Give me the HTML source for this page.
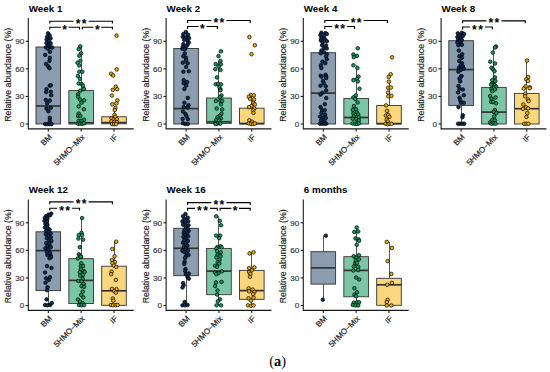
<!DOCTYPE html>
<html><head><meta charset="utf-8"><style>
html,body{margin:0;padding:0;background:#fff;}
svg{display:block;}
text{font-family:"Liberation Sans",sans-serif;}
.t{font-size:9.8px;font-weight:bold;fill:#000;}
.yl{font-size:8.8px;fill:#111;stroke:#111;stroke-width:0.12px;}
.tk{font-size:8.1px;fill:#333;stroke:#333;stroke-width:0.15px;}
.xl{font-size:8px;fill:#222;stroke:#222;stroke-width:0.18px;}
.st{font-size:12.2px;font-weight:bold;fill:#000;letter-spacing:1.4px;}
.ax{stroke:#1a1a1a;stroke-width:1.1;fill:none;}
.wh{stroke:#444;stroke-width:0.9;fill:none;}
.bx{stroke:#333;stroke-width:0.9;}
.md{stroke:#333;stroke-width:1.7;}
.br{stroke:#000;stroke-width:1.1;fill:none;}
circle{stroke:#000;stroke-width:0.7;}
</style></head><body>
<svg width="550" height="372" viewBox="0 0 550 372">
<text x="28.8" y="11.5" class="t">Week 1</text>
<text transform="translate(11.3,74.8) rotate(-90)" class="yl" text-anchor="middle">Relative abundance (%)</text>
<path d="M28.3 18.1V128.9H133.7" class="ax"/>
<path d="M25.7 124H28.3" class="ax"/>
<text x="24.2" y="126.9" class="tk" text-anchor="end">0</text>
<path d="M25.7 96.43H28.3" class="ax"/>
<text x="24.2" y="99.33" class="tk" text-anchor="end">30</text>
<path d="M25.7 68.86H28.3" class="ax"/>
<text x="24.2" y="71.76" class="tk" text-anchor="end">60</text>
<path d="M25.7 41.29H28.3" class="ax"/>
<text x="24.2" y="44.19" class="tk" text-anchor="end">90</text>
<path d="M48.5 33.3V47M48.5 124V124" class="wh"/>
<rect x="36" y="47" width="24.6" height="77" fill="#8c9db0" class="bx"/>
<path d="M36 106H60.6" class="md"/>
<path d="M81.5 46.3V90.6M81.5 124V124" class="wh"/>
<rect x="68.85" y="90.6" width="24.6" height="33.4" fill="#7cc5a6" class="bx"/>
<path d="M68.85 122.8H93.45" class="md"/>
<path d="M114.5 107.9V116.8M114.5 123.8V124" class="wh"/>
<rect x="101.7" y="116.8" width="24.6" height="7" fill="#fad77e" class="bx"/>
<path d="M101.7 122.6H126.3" class="md"/>
<path d="M48.3 128.9V131.4" class="ax"/>
<text transform="translate(52.5,137.6) rotate(-45)" class="xl" text-anchor="end">BM</text>
<path d="M81.15 128.9V131.4" class="ax"/>
<text transform="translate(85.35,137.6) rotate(-45)" class="xl" text-anchor="end">5HMO&#8722;Mix</text>
<path d="M114 128.9V131.4" class="ax"/>
<text transform="translate(118.2,137.6) rotate(-45)" class="xl" text-anchor="end">IF</text>
<path d="M49.8 23.6V21.2H73.6M88.6 21.2H112.4V23.6" class="br"/>
<text x="81.8" y="27.7" class="st" text-anchor="middle">**</text>
<path d="M49.8 29.6V27.2H60.88M68.48 27.2H79.55V29.6" class="br"/>
<text x="65.38" y="33.7" class="st" text-anchor="middle">*</text>
<path d="M82.35 29.6V27.2H93.58M101.17 27.2H112.4V29.6" class="br"/>
<text x="98.08" y="33.7" class="st" text-anchor="middle">*</text>
<text x="166.6" y="11.5" class="t">Week 2</text>
<text transform="translate(149.1,74.8) rotate(-90)" class="yl" text-anchor="middle">Relative abundance (%)</text>
<path d="M166.1 18.1V128.9H271.5" class="ax"/>
<path d="M163.5 124H166.1" class="ax"/>
<text x="162" y="126.9" class="tk" text-anchor="end">0</text>
<path d="M163.5 96.43H166.1" class="ax"/>
<text x="162" y="99.33" class="tk" text-anchor="end">30</text>
<path d="M163.5 68.86H166.1" class="ax"/>
<text x="162" y="71.76" class="tk" text-anchor="end">60</text>
<path d="M163.5 41.29H166.1" class="ax"/>
<text x="162" y="44.19" class="tk" text-anchor="end">90</text>
<path d="M186.5 32V48.5M186.5 124V124" class="wh"/>
<rect x="173.8" y="48.5" width="24.6" height="75.5" fill="#8c9db0" class="bx"/>
<path d="M173.8 108.6H198.4" class="md"/>
<path d="M218.5 61V98M218.5 123.4V124" class="wh"/>
<rect x="206.65" y="98" width="24.6" height="25.4" fill="#7cc5a6" class="bx"/>
<path d="M206.65 121.8H231.25" class="md"/>
<path d="M251.5 95.1V108.2M251.5 124V124" class="wh"/>
<rect x="239.5" y="108.2" width="24.6" height="15.8" fill="#fad77e" class="bx"/>
<path d="M239.5 123.5H264.1" class="md"/>
<path d="M186.1 128.9V131.4" class="ax"/>
<text transform="translate(190.3,137.6) rotate(-45)" class="xl" text-anchor="end">BM</text>
<path d="M218.95 128.9V131.4" class="ax"/>
<text transform="translate(223.15,137.6) rotate(-45)" class="xl" text-anchor="end">5HMO&#8722;Mix</text>
<path d="M251.8 128.9V131.4" class="ax"/>
<text transform="translate(256,137.6) rotate(-45)" class="xl" text-anchor="end">IF</text>
<path d="M187.6 22.9V20.5H211.4M226.4 20.5H250.2V22.9" class="br"/>
<text x="219.6" y="27" class="st" text-anchor="middle">**</text>
<path d="M187.6 28.9V26.5H198.67M206.28 26.5H217.35V28.9" class="br"/>
<text x="203.17" y="33" class="st" text-anchor="middle">*</text>
<text x="303.8" y="11.5" class="t">Week 4</text>
<text transform="translate(286.3,74.8) rotate(-90)" class="yl" text-anchor="middle">Relative abundance (%)</text>
<path d="M303.3 18.1V128.9H408.7" class="ax"/>
<path d="M300.7 124H303.3" class="ax"/>
<text x="299.2" y="126.9" class="tk" text-anchor="end">0</text>
<path d="M300.7 96.43H303.3" class="ax"/>
<text x="299.2" y="99.33" class="tk" text-anchor="end">30</text>
<path d="M300.7 68.86H303.3" class="ax"/>
<text x="299.2" y="71.76" class="tk" text-anchor="end">60</text>
<path d="M300.7 41.29H303.3" class="ax"/>
<text x="299.2" y="44.19" class="tk" text-anchor="end">90</text>
<path d="M323.5 32.7V52.7M323.5 124V124" class="wh"/>
<rect x="311" y="52.7" width="24.6" height="71.3" fill="#8c9db0" class="bx"/>
<path d="M311 93.1H335.6" class="md"/>
<path d="M356.5 65.3V98.4M356.5 124V124" class="wh"/>
<rect x="343.85" y="98.4" width="24.6" height="25.6" fill="#7cc5a6" class="bx"/>
<path d="M343.85 117.5H368.45" class="md"/>
<path d="M389.5 81.6V105.5M389.5 124V124" class="wh"/>
<rect x="376.7" y="105.5" width="24.6" height="18.5" fill="#fad77e" class="bx"/>
<path d="M376.7 123.6H401.3" class="md"/>
<path d="M323.3 128.9V131.4" class="ax"/>
<text transform="translate(327.5,137.6) rotate(-45)" class="xl" text-anchor="end">BM</text>
<path d="M356.15 128.9V131.4" class="ax"/>
<text transform="translate(360.35,137.6) rotate(-45)" class="xl" text-anchor="end">5HMO&#8722;Mix</text>
<path d="M389 128.9V131.4" class="ax"/>
<text transform="translate(393.2,137.6) rotate(-45)" class="xl" text-anchor="end">IF</text>
<path d="M324.8 22.9V20.5H348.6M363.6 20.5H387.4V22.9" class="br"/>
<text x="356.8" y="27" class="st" text-anchor="middle">**</text>
<path d="M324.8 28.9V26.5H332.18M347.18 26.5H354.55V28.9" class="br"/>
<text x="340.38" y="33" class="st" text-anchor="middle">**</text>
<text x="441.6" y="11.5" class="t">Week 8</text>
<text transform="translate(424.1,74.8) rotate(-90)" class="yl" text-anchor="middle">Relative abundance (%)</text>
<path d="M441.1 18.1V128.9H546.5" class="ax"/>
<path d="M438.5 124H441.1" class="ax"/>
<text x="437" y="126.9" class="tk" text-anchor="end">0</text>
<path d="M438.5 96.43H441.1" class="ax"/>
<text x="437" y="99.33" class="tk" text-anchor="end">30</text>
<path d="M438.5 68.86H441.1" class="ax"/>
<text x="437" y="71.76" class="tk" text-anchor="end">60</text>
<path d="M438.5 41.29H441.1" class="ax"/>
<text x="437" y="44.19" class="tk" text-anchor="end">90</text>
<path d="M461.5 32.7V40.7M461.5 105.4V123.7" class="wh"/>
<rect x="448.8" y="40.7" width="24.6" height="64.7" fill="#8c9db0" class="bx"/>
<path d="M448.8 69.6H473.4" class="md"/>
<path d="M493.5 46.5V87.4M493.5 124V124" class="wh"/>
<rect x="481.65" y="87.4" width="24.6" height="36.6" fill="#7cc5a6" class="bx"/>
<path d="M481.65 112.1H506.25" class="md"/>
<path d="M526.5 60.6V93.4M526.5 124V124" class="wh"/>
<rect x="514.5" y="93.4" width="24.6" height="30.6" fill="#fad77e" class="bx"/>
<path d="M514.5 108.7H539.1" class="md"/>
<path d="M461.1 128.9V131.4" class="ax"/>
<text transform="translate(465.3,137.6) rotate(-45)" class="xl" text-anchor="end">BM</text>
<path d="M493.95 128.9V131.4" class="ax"/>
<text transform="translate(498.15,137.6) rotate(-45)" class="xl" text-anchor="end">5HMO&#8722;Mix</text>
<path d="M526.8 128.9V131.4" class="ax"/>
<text transform="translate(531,137.6) rotate(-45)" class="xl" text-anchor="end">IF</text>
<path d="M462.6 23.3V20.9H486.4M501.4 20.9H525.2V23.3" class="br"/>
<text x="494.6" y="27.4" class="st" text-anchor="middle">**</text>
<path d="M462.6 29.4V27H469.98M484.98 27H492.35V29.4" class="br"/>
<text x="478.18" y="33.5" class="st" text-anchor="middle">**</text>
<text x="28.8" y="193" class="t">Week 12</text>
<text transform="translate(11.3,256.3) rotate(-90)" class="yl" text-anchor="middle">Relative abundance (%)</text>
<path d="M28.3 199.6V310.4H133.7" class="ax"/>
<path d="M25.7 305.5H28.3" class="ax"/>
<text x="24.2" y="308.4" class="tk" text-anchor="end">0</text>
<path d="M25.7 277.93H28.3" class="ax"/>
<text x="24.2" y="280.83" class="tk" text-anchor="end">30</text>
<path d="M25.7 250.36H28.3" class="ax"/>
<text x="24.2" y="253.26" class="tk" text-anchor="end">60</text>
<path d="M25.7 222.79H28.3" class="ax"/>
<text x="24.2" y="225.69" class="tk" text-anchor="end">90</text>
<path d="M48.5 213.6V231.8M48.5 290.6V305.3" class="wh"/>
<rect x="36" y="231.8" width="24.6" height="58.8" fill="#8c9db0" class="bx"/>
<path d="M36 250.6H60.6" class="md"/>
<path d="M81.5 218V258.7M81.5 303.5V305.3" class="wh"/>
<rect x="68.85" y="258.7" width="24.6" height="44.8" fill="#7cc5a6" class="bx"/>
<path d="M68.85 280.4H93.45" class="md"/>
<path d="M114.5 241.7V266.2M114.5 305.3V305.3" class="wh"/>
<rect x="101.7" y="266.2" width="24.6" height="39.1" fill="#fad77e" class="bx"/>
<path d="M101.7 290.8H126.3" class="md"/>
<path d="M48.3 310.4V312.9" class="ax"/>
<text transform="translate(52.5,319.1) rotate(-45)" class="xl" text-anchor="end">BM</text>
<path d="M81.15 310.4V312.9" class="ax"/>
<text transform="translate(85.35,319.1) rotate(-45)" class="xl" text-anchor="end">5HMO&#8722;Mix</text>
<path d="M114 310.4V312.9" class="ax"/>
<text transform="translate(118.2,319.1) rotate(-45)" class="xl" text-anchor="end">IF</text>
<path d="M49.8 204.3V201.9H73.6M88.6 201.9H112.4V204.3" class="br"/>
<text x="81.8" y="208.4" class="st" text-anchor="middle">**</text>
<path d="M49.8 210.6V208.2H57.18M72.18 208.2H79.55V210.6" class="br"/>
<text x="65.38" y="214.7" class="st" text-anchor="middle">**</text>
<text x="166.6" y="193" class="t">Week 16</text>
<text transform="translate(149.1,256.3) rotate(-90)" class="yl" text-anchor="middle">Relative abundance (%)</text>
<path d="M166.1 199.6V310.4H271.5" class="ax"/>
<path d="M163.5 305.5H166.1" class="ax"/>
<text x="162" y="308.4" class="tk" text-anchor="end">0</text>
<path d="M163.5 277.93H166.1" class="ax"/>
<text x="162" y="280.83" class="tk" text-anchor="end">30</text>
<path d="M163.5 250.36H166.1" class="ax"/>
<text x="162" y="253.26" class="tk" text-anchor="end">60</text>
<path d="M163.5 222.79H166.1" class="ax"/>
<text x="162" y="225.69" class="tk" text-anchor="end">90</text>
<path d="M186.5 214V228.3M186.5 275.7V305.3" class="wh"/>
<rect x="173.8" y="228.3" width="24.6" height="47.4" fill="#8c9db0" class="bx"/>
<path d="M173.8 248.3H198.4" class="md"/>
<path d="M218.5 216.3V248.4M218.5 294.7V305.3" class="wh"/>
<rect x="206.65" y="248.4" width="24.6" height="46.3" fill="#7cc5a6" class="bx"/>
<path d="M206.65 271.1H231.25" class="md"/>
<path d="M251.5 252.3V270.4M251.5 299.3V305.5" class="wh"/>
<rect x="239.5" y="270.4" width="24.6" height="28.9" fill="#fad77e" class="bx"/>
<path d="M239.5 290.6H264.1" class="md"/>
<path d="M186.1 310.4V312.9" class="ax"/>
<text transform="translate(190.3,319.1) rotate(-45)" class="xl" text-anchor="end">BM</text>
<path d="M218.95 310.4V312.9" class="ax"/>
<text transform="translate(223.15,319.1) rotate(-45)" class="xl" text-anchor="end">5HMO&#8722;Mix</text>
<path d="M251.8 310.4V312.9" class="ax"/>
<text transform="translate(256,319.1) rotate(-45)" class="xl" text-anchor="end">IF</text>
<path d="M187.6 205V202.6H211.4M226.4 202.6H250.2V205" class="br"/>
<text x="219.6" y="209.1" class="st" text-anchor="middle">**</text>
<path d="M187.6 210.8V208.4H194.97M209.97 208.4H217.35V210.8" class="br"/>
<text x="203.17" y="214.9" class="st" text-anchor="middle">**</text>
<path d="M220.15 210.8V208.4H231.38M238.98 208.4H250.2V210.8" class="br"/>
<text x="235.88" y="214.9" class="st" text-anchor="middle">*</text>
<text x="303.8" y="193" class="t">6 months</text>
<text transform="translate(286.3,256.3) rotate(-90)" class="yl" text-anchor="middle">Relative abundance (%)</text>
<path d="M303.3 199.6V310.4H408.7" class="ax"/>
<path d="M300.7 305.5H303.3" class="ax"/>
<text x="299.2" y="308.4" class="tk" text-anchor="end">0</text>
<path d="M300.7 277.93H303.3" class="ax"/>
<text x="299.2" y="280.83" class="tk" text-anchor="end">30</text>
<path d="M300.7 250.36H303.3" class="ax"/>
<text x="299.2" y="253.26" class="tk" text-anchor="end">60</text>
<path d="M300.7 222.79H303.3" class="ax"/>
<text x="299.2" y="225.69" class="tk" text-anchor="end">90</text>
<path d="M323.5 235.7V251.7M323.5 284.1V299.7" class="wh"/>
<rect x="311" y="251.7" width="24.6" height="32.4" fill="#8c9db0" class="bx"/>
<path d="M311 267.9H335.6" class="md"/>
<path d="M356.5 227.5V256.7M356.5 296.8V305.4" class="wh"/>
<rect x="343.85" y="256.7" width="24.6" height="40.1" fill="#7cc5a6" class="bx"/>
<path d="M343.85 270.4H368.45" class="md"/>
<path d="M389.5 241.9V278.3M389.5 305.3V305.5" class="wh"/>
<rect x="376.7" y="278.3" width="24.6" height="27" fill="#fad77e" class="bx"/>
<path d="M376.7 284.8H401.3" class="md"/>
<path d="M323.3 310.4V312.9" class="ax"/>
<text transform="translate(327.5,319.1) rotate(-45)" class="xl" text-anchor="end">BM</text>
<path d="M356.15 310.4V312.9" class="ax"/>
<text transform="translate(360.35,319.1) rotate(-45)" class="xl" text-anchor="end">5HMO&#8722;Mix</text>
<path d="M389 310.4V312.9" class="ax"/>
<text transform="translate(393.2,319.1) rotate(-45)" class="xl" text-anchor="end">IF</text>
<g>
<circle cx="48" cy="33.3" r="1.8" fill="#0c2d55"/>
<circle cx="49.6" cy="35.4" r="1.8" fill="#0c2d55"/>
<circle cx="47.2" cy="36.8" r="1.8" fill="#0c2d55"/>
<circle cx="50.6" cy="38.4" r="1.8" fill="#0c2d55"/>
<circle cx="46.6" cy="39.6" r="1.8" fill="#0c2d55"/>
<circle cx="48.8" cy="41.2" r="1.8" fill="#0c2d55"/>
<circle cx="46.5" cy="43" r="1.8" fill="#0c2d55"/>
<circle cx="50.7" cy="43.4" r="1.8" fill="#0c2d55"/>
<circle cx="48.5" cy="45.3" r="1.8" fill="#0c2d55"/>
<circle cx="46" cy="47.3" r="1.8" fill="#0c2d55"/>
<circle cx="50" cy="47" r="1.8" fill="#0c2d55"/>
<circle cx="52.2" cy="47.6" r="1.8" fill="#0c2d55"/>
<circle cx="47.8" cy="48.6" r="1.8" fill="#0c2d55"/>
<circle cx="49.9" cy="51.9" r="1.8" fill="#0c2d55"/>
<circle cx="45.2" cy="54.9" r="1.8" fill="#0c2d55"/>
<circle cx="49.9" cy="57.8" r="1.8" fill="#0c2d55"/>
<circle cx="49.5" cy="60.9" r="1.8" fill="#0c2d55"/>
<circle cx="46.1" cy="64" r="1.8" fill="#0c2d55"/>
<circle cx="48.1" cy="66.3" r="1.8" fill="#0c2d55"/>
<circle cx="49.5" cy="68.3" r="1.8" fill="#0c2d55"/>
<circle cx="49.8" cy="85.7" r="1.8" fill="#0c2d55"/>
<circle cx="50.8" cy="85.3" r="1.8" fill="#0c2d55"/>
<circle cx="46.5" cy="89.2" r="1.8" fill="#0c2d55"/>
<circle cx="46.1" cy="92.1" r="1.8" fill="#0c2d55"/>
<circle cx="50.8" cy="91.8" r="1.8" fill="#0c2d55"/>
<circle cx="51.2" cy="95.2" r="1.8" fill="#0c2d55"/>
<circle cx="45.8" cy="99.9" r="1.8" fill="#0c2d55"/>
<circle cx="49.8" cy="100.6" r="1.8" fill="#0c2d55"/>
<circle cx="47.2" cy="103.5" r="1.8" fill="#0c2d55"/>
<circle cx="46.5" cy="108.5" r="1.8" fill="#0c2d55"/>
<circle cx="50.8" cy="107.8" r="1.8" fill="#0c2d55"/>
<circle cx="48.4" cy="111.3" r="1.8" fill="#0c2d55"/>
<circle cx="49.8" cy="117.7" r="1.8" fill="#0c2d55"/>
<circle cx="49.8" cy="120.6" r="1.8" fill="#0c2d55"/>
<circle cx="45.1" cy="124.1" r="1.8" fill="#0c2d55"/>
<circle cx="47.2" cy="124.1" r="1.8" fill="#0c2d55"/>
<circle cx="49.4" cy="124.1" r="1.8" fill="#0c2d55"/>
<circle cx="51.5" cy="124.1" r="1.8" fill="#0c2d55"/>
<circle cx="80.3" cy="46.3" r="1.8" fill="#0f9a5e"/>
<circle cx="78.7" cy="49.1" r="1.8" fill="#0f9a5e"/>
<circle cx="81.1" cy="53.3" r="1.8" fill="#0f9a5e"/>
<circle cx="79.3" cy="55.7" r="1.8" fill="#0f9a5e"/>
<circle cx="80.3" cy="60.8" r="1.8" fill="#0f9a5e"/>
<circle cx="77.5" cy="62.7" r="1.8" fill="#0f9a5e"/>
<circle cx="79.3" cy="65.4" r="1.8" fill="#0f9a5e"/>
<circle cx="79.3" cy="71.7" r="1.8" fill="#0f9a5e"/>
<circle cx="82.3" cy="71.7" r="1.8" fill="#0f9a5e"/>
<circle cx="77.9" cy="76" r="1.8" fill="#0f9a5e"/>
<circle cx="79.9" cy="78.9" r="1.8" fill="#0f9a5e"/>
<circle cx="78.7" cy="83.5" r="1.8" fill="#0f9a5e"/>
<circle cx="81.7" cy="84.1" r="1.8" fill="#0f9a5e"/>
<circle cx="82.9" cy="85.8" r="1.8" fill="#0f9a5e"/>
<circle cx="83.9" cy="89.1" r="1.8" fill="#0f9a5e"/>
<circle cx="80.3" cy="90.7" r="1.8" fill="#0f9a5e"/>
<circle cx="78.1" cy="94.3" r="1.8" fill="#0f9a5e"/>
<circle cx="78.1" cy="96.7" r="1.8" fill="#0f9a5e"/>
<circle cx="79.9" cy="99.5" r="1.8" fill="#0f9a5e"/>
<circle cx="84.1" cy="100.3" r="1.8" fill="#0f9a5e"/>
<circle cx="81.5" cy="102.7" r="1.8" fill="#0f9a5e"/>
<circle cx="78.7" cy="106.4" r="1.8" fill="#0f9a5e"/>
<circle cx="83.9" cy="109.2" r="1.8" fill="#0f9a5e"/>
<circle cx="78.7" cy="113.6" r="1.8" fill="#0f9a5e"/>
<circle cx="78.1" cy="116" r="1.8" fill="#0f9a5e"/>
<circle cx="80.3" cy="116" r="1.8" fill="#0f9a5e"/>
<circle cx="84.1" cy="119.7" r="1.8" fill="#0f9a5e"/>
<circle cx="78.7" cy="120.9" r="1.8" fill="#0f9a5e"/>
<circle cx="81.5" cy="120.9" r="1.8" fill="#0f9a5e"/>
<circle cx="78.1" cy="123.7" r="1.8" fill="#0f9a5e"/>
<circle cx="80.3" cy="123.7" r="1.8" fill="#0f9a5e"/>
<circle cx="82.3" cy="123.7" r="1.8" fill="#0f9a5e"/>
<circle cx="84.1" cy="123.3" r="1.8" fill="#0f9a5e"/>
<circle cx="116.5" cy="35.6" r="1.8" fill="#f0ae00"/>
<circle cx="116.7" cy="69.4" r="1.8" fill="#f0ae00"/>
<circle cx="111.1" cy="73.7" r="1.8" fill="#f0ae00"/>
<circle cx="113.1" cy="75.4" r="1.8" fill="#f0ae00"/>
<circle cx="115.8" cy="86.6" r="1.8" fill="#f0ae00"/>
<circle cx="112.8" cy="89.9" r="1.8" fill="#f0ae00"/>
<circle cx="117.2" cy="89.2" r="1.8" fill="#f0ae00"/>
<circle cx="111.9" cy="95.5" r="1.8" fill="#f0ae00"/>
<circle cx="117.4" cy="100.4" r="1.8" fill="#f0ae00"/>
<circle cx="116.4" cy="103.4" r="1.8" fill="#f0ae00"/>
<circle cx="112.4" cy="104.3" r="1.8" fill="#f0ae00"/>
<circle cx="115.4" cy="107.9" r="1.8" fill="#f0ae00"/>
<circle cx="114.8" cy="110" r="1.8" fill="#f0ae00"/>
<circle cx="114.5" cy="114.9" r="1.8" fill="#f0ae00"/>
<circle cx="115.4" cy="116.8" r="1.8" fill="#f0ae00"/>
<circle cx="111.5" cy="118.2" r="1.8" fill="#f0ae00"/>
<circle cx="113.5" cy="119.5" r="1.8" fill="#f0ae00"/>
<circle cx="116.8" cy="119.2" r="1.8" fill="#f0ae00"/>
<circle cx="111.5" cy="121.4" r="1.8" fill="#f0ae00"/>
<circle cx="114.5" cy="121.8" r="1.8" fill="#f0ae00"/>
<circle cx="116.8" cy="122.1" r="1.8" fill="#f0ae00"/>
<circle cx="112.2" cy="124.1" r="1.8" fill="#f0ae00"/>
<circle cx="114.1" cy="124.1" r="1.8" fill="#f0ae00"/>
<circle cx="116.1" cy="124.1" r="1.8" fill="#f0ae00"/>
<circle cx="185.9" cy="32" r="1.8" fill="#0c2d55"/>
<circle cx="183.4" cy="34" r="1.8" fill="#0c2d55"/>
<circle cx="188.1" cy="34.7" r="1.8" fill="#0c2d55"/>
<circle cx="182.8" cy="36.7" r="1.8" fill="#0c2d55"/>
<circle cx="186.1" cy="37.4" r="1.8" fill="#0c2d55"/>
<circle cx="189.1" cy="38.1" r="1.8" fill="#0c2d55"/>
<circle cx="184.1" cy="39.8" r="1.8" fill="#0c2d55"/>
<circle cx="187.5" cy="40.8" r="1.8" fill="#0c2d55"/>
<circle cx="188.8" cy="42.5" r="1.8" fill="#0c2d55"/>
<circle cx="183.4" cy="44.1" r="1.8" fill="#0c2d55"/>
<circle cx="187.5" cy="44.8" r="1.8" fill="#0c2d55"/>
<circle cx="182.8" cy="46.8" r="1.8" fill="#0c2d55"/>
<circle cx="186.1" cy="46.8" r="1.8" fill="#0c2d55"/>
<circle cx="182.4" cy="48.8" r="1.8" fill="#0c2d55"/>
<circle cx="184.8" cy="49.2" r="1.8" fill="#0c2d55"/>
<circle cx="184.8" cy="53.5" r="1.8" fill="#0c2d55"/>
<circle cx="183.4" cy="56.2" r="1.8" fill="#0c2d55"/>
<circle cx="185.9" cy="57.8" r="1.8" fill="#0c2d55"/>
<circle cx="186.1" cy="60.3" r="1.8" fill="#0c2d55"/>
<circle cx="182.8" cy="62.7" r="1.8" fill="#0c2d55"/>
<circle cx="187.5" cy="63.2" r="1.8" fill="#0c2d55"/>
<circle cx="186.1" cy="67" r="1.8" fill="#0c2d55"/>
<circle cx="183.4" cy="71.7" r="1.8" fill="#0c2d55"/>
<circle cx="188.8" cy="71.3" r="1.8" fill="#0c2d55"/>
<circle cx="183.7" cy="80.1" r="1.8" fill="#0c2d55"/>
<circle cx="187.1" cy="82.1" r="1.8" fill="#0c2d55"/>
<circle cx="183.7" cy="83.2" r="1.8" fill="#0c2d55"/>
<circle cx="186.2" cy="85.5" r="1.8" fill="#0c2d55"/>
<circle cx="184.4" cy="89" r="1.8" fill="#0c2d55"/>
<circle cx="187.8" cy="97.9" r="1.8" fill="#0c2d55"/>
<circle cx="184.4" cy="102.7" r="1.8" fill="#0c2d55"/>
<circle cx="188.5" cy="105.2" r="1.8" fill="#0c2d55"/>
<circle cx="183.7" cy="107.1" r="1.8" fill="#0c2d55"/>
<circle cx="187.6" cy="107.5" r="1.8" fill="#0c2d55"/>
<circle cx="183" cy="111.6" r="1.8" fill="#0c2d55"/>
<circle cx="185.4" cy="113.9" r="1.8" fill="#0c2d55"/>
<circle cx="186.5" cy="116.1" r="1.8" fill="#0c2d55"/>
<circle cx="182.6" cy="118.9" r="1.8" fill="#0c2d55"/>
<circle cx="187.8" cy="119.2" r="1.8" fill="#0c2d55"/>
<circle cx="183" cy="123.3" r="1.8" fill="#0c2d55"/>
<circle cx="185.4" cy="124" r="1.8" fill="#0c2d55"/>
<circle cx="187.8" cy="124" r="1.8" fill="#0c2d55"/>
<circle cx="220.9" cy="51.3" r="1.8" fill="#0f9a5e"/>
<circle cx="218.5" cy="56.1" r="1.8" fill="#0f9a5e"/>
<circle cx="220.5" cy="61" r="1.8" fill="#0f9a5e"/>
<circle cx="215.7" cy="64.1" r="1.8" fill="#0f9a5e"/>
<circle cx="220.9" cy="64.3" r="1.8" fill="#0f9a5e"/>
<circle cx="218.7" cy="66.5" r="1.8" fill="#0f9a5e"/>
<circle cx="215.3" cy="69.2" r="1.8" fill="#0f9a5e"/>
<circle cx="220.5" cy="70" r="1.8" fill="#0f9a5e"/>
<circle cx="216.9" cy="77.4" r="1.8" fill="#0f9a5e"/>
<circle cx="215.7" cy="84.3" r="1.8" fill="#0f9a5e"/>
<circle cx="218.1" cy="83.9" r="1.8" fill="#0f9a5e"/>
<circle cx="220.9" cy="84.3" r="1.8" fill="#0f9a5e"/>
<circle cx="219.3" cy="87.1" r="1.8" fill="#0f9a5e"/>
<circle cx="220.5" cy="89.5" r="1.8" fill="#0f9a5e"/>
<circle cx="220.3" cy="90.4" r="1.8" fill="#0f9a5e"/>
<circle cx="221.5" cy="95.5" r="1.8" fill="#0f9a5e"/>
<circle cx="219.8" cy="97" r="1.8" fill="#0f9a5e"/>
<circle cx="215.9" cy="101" r="1.8" fill="#0f9a5e"/>
<circle cx="220.3" cy="100.8" r="1.8" fill="#0f9a5e"/>
<circle cx="222.1" cy="101" r="1.8" fill="#0f9a5e"/>
<circle cx="220.9" cy="104.3" r="1.8" fill="#0f9a5e"/>
<circle cx="216.6" cy="108.5" r="1.8" fill="#0f9a5e"/>
<circle cx="222.1" cy="109.4" r="1.8" fill="#0f9a5e"/>
<circle cx="221.5" cy="113.7" r="1.8" fill="#0f9a5e"/>
<circle cx="219.8" cy="115.8" r="1.8" fill="#0f9a5e"/>
<circle cx="217.5" cy="117.2" r="1.8" fill="#0f9a5e"/>
<circle cx="220.9" cy="118.4" r="1.8" fill="#0f9a5e"/>
<circle cx="216.3" cy="120.1" r="1.8" fill="#0f9a5e"/>
<circle cx="219.2" cy="120.4" r="1.8" fill="#0f9a5e"/>
<circle cx="215.1" cy="122.8" r="1.8" fill="#0f9a5e"/>
<circle cx="217.5" cy="123.6" r="1.8" fill="#0f9a5e"/>
<circle cx="220.3" cy="123.6" r="1.8" fill="#0f9a5e"/>
<circle cx="215.7" cy="124.1" r="1.8" fill="#0f9a5e"/>
<circle cx="249.4" cy="37.1" r="1.8" fill="#f0ae00"/>
<circle cx="254.8" cy="45.2" r="1.8" fill="#f0ae00"/>
<circle cx="251.5" cy="54.2" r="1.8" fill="#f0ae00"/>
<circle cx="250.8" cy="95.1" r="1.8" fill="#f0ae00"/>
<circle cx="253.8" cy="95.4" r="1.8" fill="#f0ae00"/>
<circle cx="248.8" cy="96.8" r="1.8" fill="#f0ae00"/>
<circle cx="250.2" cy="99" r="1.8" fill="#f0ae00"/>
<circle cx="254" cy="99.4" r="1.8" fill="#f0ae00"/>
<circle cx="253.5" cy="103" r="1.8" fill="#f0ae00"/>
<circle cx="254.9" cy="104.5" r="1.8" fill="#f0ae00"/>
<circle cx="251.4" cy="106.1" r="1.8" fill="#f0ae00"/>
<circle cx="249" cy="107.2" r="1.8" fill="#f0ae00"/>
<circle cx="254.3" cy="108.4" r="1.8" fill="#f0ae00"/>
<circle cx="253.2" cy="110.4" r="1.8" fill="#f0ae00"/>
<circle cx="253.5" cy="112.8" r="1.8" fill="#f0ae00"/>
<circle cx="249.3" cy="120.3" r="1.8" fill="#f0ae00"/>
<circle cx="252" cy="121.7" r="1.8" fill="#f0ae00"/>
<circle cx="248.8" cy="123.5" r="1.8" fill="#f0ae00"/>
<circle cx="251.1" cy="123.8" r="1.8" fill="#f0ae00"/>
<circle cx="253.2" cy="123.8" r="1.8" fill="#f0ae00"/>
<circle cx="254.9" cy="123.5" r="1.8" fill="#f0ae00"/>
<circle cx="321.4" cy="32.7" r="1.8" fill="#0c2d55"/>
<circle cx="325.5" cy="33.1" r="1.8" fill="#0c2d55"/>
<circle cx="320.4" cy="35" r="1.8" fill="#0c2d55"/>
<circle cx="323.9" cy="35.8" r="1.8" fill="#0c2d55"/>
<circle cx="326.8" cy="34" r="1.8" fill="#0c2d55"/>
<circle cx="321.4" cy="38.1" r="1.8" fill="#0c2d55"/>
<circle cx="324.8" cy="39" r="1.8" fill="#0c2d55"/>
<circle cx="320.8" cy="40.4" r="1.8" fill="#0c2d55"/>
<circle cx="326.8" cy="41.2" r="1.8" fill="#0c2d55"/>
<circle cx="322.8" cy="42.5" r="1.8" fill="#0c2d55"/>
<circle cx="322.1" cy="45.2" r="1.8" fill="#0c2d55"/>
<circle cx="326.1" cy="45.5" r="1.8" fill="#0c2d55"/>
<circle cx="323.9" cy="47.9" r="1.8" fill="#0c2d55"/>
<circle cx="326.8" cy="48.4" r="1.8" fill="#0c2d55"/>
<circle cx="321.4" cy="50.6" r="1.8" fill="#0c2d55"/>
<circle cx="324.1" cy="52.2" r="1.8" fill="#0c2d55"/>
<circle cx="320.8" cy="53.3" r="1.8" fill="#0c2d55"/>
<circle cx="326.8" cy="54.2" r="1.8" fill="#0c2d55"/>
<circle cx="326.1" cy="56.5" r="1.8" fill="#0c2d55"/>
<circle cx="326.8" cy="59.2" r="1.8" fill="#0c2d55"/>
<circle cx="322.5" cy="61.6" r="1.8" fill="#0c2d55"/>
<circle cx="325.2" cy="63.2" r="1.8" fill="#0c2d55"/>
<circle cx="320.8" cy="65.4" r="1.8" fill="#0c2d55"/>
<circle cx="321.4" cy="68.1" r="1.8" fill="#0c2d55"/>
<circle cx="320.8" cy="75.7" r="1.8" fill="#0c2d55"/>
<circle cx="325.5" cy="74.8" r="1.8" fill="#0c2d55"/>
<circle cx="326.1" cy="76.4" r="1.8" fill="#0c2d55"/>
<circle cx="321.5" cy="76.7" r="1.8" fill="#0c2d55"/>
<circle cx="326.2" cy="78.1" r="1.8" fill="#0c2d55"/>
<circle cx="323" cy="81" r="1.8" fill="#0c2d55"/>
<circle cx="323.7" cy="83.1" r="1.8" fill="#0c2d55"/>
<circle cx="320.5" cy="85.7" r="1.8" fill="#0c2d55"/>
<circle cx="325.8" cy="86.3" r="1.8" fill="#0c2d55"/>
<circle cx="326.2" cy="90.5" r="1.8" fill="#0c2d55"/>
<circle cx="322.2" cy="92.8" r="1.8" fill="#0c2d55"/>
<circle cx="320.5" cy="94.5" r="1.8" fill="#0c2d55"/>
<circle cx="326.2" cy="98.1" r="1.8" fill="#0c2d55"/>
<circle cx="324.8" cy="104.2" r="1.8" fill="#0c2d55"/>
<circle cx="320.5" cy="107.1" r="1.8" fill="#0c2d55"/>
<circle cx="322.2" cy="110.2" r="1.8" fill="#0c2d55"/>
<circle cx="324.8" cy="110.2" r="1.8" fill="#0c2d55"/>
<circle cx="321.5" cy="113" r="1.8" fill="#0c2d55"/>
<circle cx="325.1" cy="114.5" r="1.8" fill="#0c2d55"/>
<circle cx="320.1" cy="116.6" r="1.8" fill="#0c2d55"/>
<circle cx="323" cy="117.6" r="1.8" fill="#0c2d55"/>
<circle cx="325.8" cy="118" r="1.8" fill="#0c2d55"/>
<circle cx="321.1" cy="120.4" r="1.8" fill="#0c2d55"/>
<circle cx="324.4" cy="121.3" r="1.8" fill="#0c2d55"/>
<circle cx="320.1" cy="123.7" r="1.8" fill="#0c2d55"/>
<circle cx="322.2" cy="123.7" r="1.8" fill="#0c2d55"/>
<circle cx="324.4" cy="123.7" r="1.8" fill="#0c2d55"/>
<circle cx="326.2" cy="123.7" r="1.8" fill="#0c2d55"/>
<circle cx="357.8" cy="48.3" r="1.8" fill="#0f9a5e"/>
<circle cx="353.4" cy="54.5" r="1.8" fill="#0f9a5e"/>
<circle cx="356.9" cy="55.9" r="1.8" fill="#0f9a5e"/>
<circle cx="353.8" cy="57.2" r="1.8" fill="#0f9a5e"/>
<circle cx="353.4" cy="65.3" r="1.8" fill="#0f9a5e"/>
<circle cx="357.4" cy="68" r="1.8" fill="#0f9a5e"/>
<circle cx="358.5" cy="76.6" r="1.8" fill="#0f9a5e"/>
<circle cx="353.4" cy="80.1" r="1.8" fill="#0f9a5e"/>
<circle cx="356.9" cy="79.2" r="1.8" fill="#0f9a5e"/>
<circle cx="357.8" cy="81.4" r="1.8" fill="#0f9a5e"/>
<circle cx="359.5" cy="88.7" r="1.8" fill="#0f9a5e"/>
<circle cx="355.8" cy="95.4" r="1.8" fill="#0f9a5e"/>
<circle cx="353.4" cy="97.4" r="1.8" fill="#0f9a5e"/>
<circle cx="355.2" cy="99" r="1.8" fill="#0f9a5e"/>
<circle cx="357.6" cy="102.5" r="1.8" fill="#0f9a5e"/>
<circle cx="354" cy="106.1" r="1.8" fill="#0f9a5e"/>
<circle cx="352.8" cy="109.9" r="1.8" fill="#0f9a5e"/>
<circle cx="356.1" cy="109.3" r="1.8" fill="#0f9a5e"/>
<circle cx="357" cy="112.5" r="1.8" fill="#0f9a5e"/>
<circle cx="353.4" cy="113.4" r="1.8" fill="#0f9a5e"/>
<circle cx="358.2" cy="114.6" r="1.8" fill="#0f9a5e"/>
<circle cx="353.8" cy="116.4" r="1.8" fill="#0f9a5e"/>
<circle cx="357" cy="116.7" r="1.8" fill="#0f9a5e"/>
<circle cx="358.8" cy="117.5" r="1.8" fill="#0f9a5e"/>
<circle cx="352.8" cy="118.7" r="1.8" fill="#0f9a5e"/>
<circle cx="356.1" cy="119.3" r="1.8" fill="#0f9a5e"/>
<circle cx="358.8" cy="120.5" r="1.8" fill="#0f9a5e"/>
<circle cx="352.6" cy="123.5" r="1.8" fill="#0f9a5e"/>
<circle cx="355" cy="123.8" r="1.8" fill="#0f9a5e"/>
<circle cx="357" cy="123.8" r="1.8" fill="#0f9a5e"/>
<circle cx="358.8" cy="123.5" r="1.8" fill="#0f9a5e"/>
<circle cx="392.1" cy="57.3" r="1.8" fill="#f0ae00"/>
<circle cx="390.7" cy="74.3" r="1.8" fill="#f0ae00"/>
<circle cx="388.7" cy="76.9" r="1.8" fill="#f0ae00"/>
<circle cx="388.9" cy="81.6" r="1.8" fill="#f0ae00"/>
<circle cx="388.1" cy="87.8" r="1.8" fill="#f0ae00"/>
<circle cx="390.9" cy="87.5" r="1.8" fill="#f0ae00"/>
<circle cx="388.1" cy="92.6" r="1.8" fill="#f0ae00"/>
<circle cx="388.3" cy="96.3" r="1.8" fill="#f0ae00"/>
<circle cx="391.4" cy="95.9" r="1.8" fill="#f0ae00"/>
<circle cx="386.1" cy="105.4" r="1.8" fill="#f0ae00"/>
<circle cx="387" cy="110.9" r="1.8" fill="#f0ae00"/>
<circle cx="385.9" cy="115.6" r="1.8" fill="#f0ae00"/>
<circle cx="388.3" cy="115" r="1.8" fill="#f0ae00"/>
<circle cx="389.4" cy="116.9" r="1.8" fill="#f0ae00"/>
<circle cx="386.7" cy="119.8" r="1.8" fill="#f0ae00"/>
<circle cx="387.8" cy="121.6" r="1.8" fill="#f0ae00"/>
<circle cx="385.6" cy="123.8" r="1.8" fill="#f0ae00"/>
<circle cx="387.8" cy="124.2" r="1.8" fill="#f0ae00"/>
<circle cx="389.4" cy="123.8" r="1.8" fill="#f0ae00"/>
<circle cx="391.6" cy="123.8" r="1.8" fill="#f0ae00"/>
<circle cx="457.8" cy="33.4" r="1.8" fill="#0c2d55"/>
<circle cx="461.9" cy="32.7" r="1.8" fill="#0c2d55"/>
<circle cx="464.1" cy="34" r="1.8" fill="#0c2d55"/>
<circle cx="459.4" cy="35.4" r="1.8" fill="#0c2d55"/>
<circle cx="462.8" cy="36.1" r="1.8" fill="#0c2d55"/>
<circle cx="457.4" cy="37.1" r="1.8" fill="#0c2d55"/>
<circle cx="460.5" cy="38.1" r="1.8" fill="#0c2d55"/>
<circle cx="458.1" cy="39.8" r="1.8" fill="#0c2d55"/>
<circle cx="461.9" cy="40.1" r="1.8" fill="#0c2d55"/>
<circle cx="459.4" cy="41.4" r="1.8" fill="#0c2d55"/>
<circle cx="457.4" cy="42.5" r="1.8" fill="#0c2d55"/>
<circle cx="460.8" cy="43.5" r="1.8" fill="#0c2d55"/>
<circle cx="458.4" cy="45.2" r="1.8" fill="#0c2d55"/>
<circle cx="461.9" cy="44.8" r="1.8" fill="#0c2d55"/>
<circle cx="458.8" cy="50.6" r="1.8" fill="#0c2d55"/>
<circle cx="462.1" cy="54.2" r="1.8" fill="#0c2d55"/>
<circle cx="459.4" cy="56.2" r="1.8" fill="#0c2d55"/>
<circle cx="461.9" cy="57.8" r="1.8" fill="#0c2d55"/>
<circle cx="459.2" cy="60.9" r="1.8" fill="#0c2d55"/>
<circle cx="461.9" cy="63.2" r="1.8" fill="#0c2d55"/>
<circle cx="460.5" cy="65.4" r="1.8" fill="#0c2d55"/>
<circle cx="462.8" cy="66.3" r="1.8" fill="#0c2d55"/>
<circle cx="458.8" cy="68.1" r="1.8" fill="#0c2d55"/>
<circle cx="463.7" cy="68.6" r="1.8" fill="#0c2d55"/>
<circle cx="460.8" cy="69.9" r="1.8" fill="#0c2d55"/>
<circle cx="458.4" cy="71.7" r="1.8" fill="#0c2d55"/>
<circle cx="461.5" cy="76.1" r="1.8" fill="#0c2d55"/>
<circle cx="461" cy="76.7" r="1.8" fill="#0c2d55"/>
<circle cx="459.5" cy="78.6" r="1.8" fill="#0c2d55"/>
<circle cx="460.2" cy="81.4" r="1.8" fill="#0c2d55"/>
<circle cx="458.5" cy="86" r="1.8" fill="#0c2d55"/>
<circle cx="459.5" cy="88.8" r="1.8" fill="#0c2d55"/>
<circle cx="462.8" cy="89.5" r="1.8" fill="#0c2d55"/>
<circle cx="458.1" cy="92.4" r="1.8" fill="#0c2d55"/>
<circle cx="463.8" cy="95.2" r="1.8" fill="#0c2d55"/>
<circle cx="459.5" cy="97.7" r="1.8" fill="#0c2d55"/>
<circle cx="460.2" cy="100.2" r="1.8" fill="#0c2d55"/>
<circle cx="461" cy="102.8" r="1.8" fill="#0c2d55"/>
<circle cx="463.8" cy="102.8" r="1.8" fill="#0c2d55"/>
<circle cx="458.5" cy="107.1" r="1.8" fill="#0c2d55"/>
<circle cx="462.8" cy="115.2" r="1.8" fill="#0c2d55"/>
<circle cx="462.4" cy="117.3" r="1.8" fill="#0c2d55"/>
<circle cx="458.1" cy="123.7" r="1.8" fill="#0c2d55"/>
<circle cx="460.2" cy="123.7" r="1.8" fill="#0c2d55"/>
<circle cx="462.4" cy="123.7" r="1.8" fill="#0c2d55"/>
<circle cx="464.2" cy="123.7" r="1.8" fill="#0c2d55"/>
<circle cx="496.1" cy="46.5" r="1.8" fill="#0f9a5e"/>
<circle cx="495" cy="47.5" r="1.8" fill="#0f9a5e"/>
<circle cx="492.8" cy="52.6" r="1.8" fill="#0f9a5e"/>
<circle cx="490.3" cy="61.7" r="1.8" fill="#0f9a5e"/>
<circle cx="495" cy="63.5" r="1.8" fill="#0f9a5e"/>
<circle cx="491.5" cy="67.7" r="1.8" fill="#0f9a5e"/>
<circle cx="493.2" cy="69.4" r="1.8" fill="#0f9a5e"/>
<circle cx="494.5" cy="71.2" r="1.8" fill="#0f9a5e"/>
<circle cx="495" cy="77.4" r="1.8" fill="#0f9a5e"/>
<circle cx="492.2" cy="80.3" r="1.8" fill="#0f9a5e"/>
<circle cx="495.4" cy="81" r="1.8" fill="#0f9a5e"/>
<circle cx="491.9" cy="83.6" r="1.8" fill="#0f9a5e"/>
<circle cx="494.1" cy="84.5" r="1.8" fill="#0f9a5e"/>
<circle cx="491.1" cy="84.6" r="1.8" fill="#0f9a5e"/>
<circle cx="494.9" cy="85.2" r="1.8" fill="#0f9a5e"/>
<circle cx="493.5" cy="87.4" r="1.8" fill="#0f9a5e"/>
<circle cx="496.1" cy="86.7" r="1.8" fill="#0f9a5e"/>
<circle cx="491.5" cy="89.1" r="1.8" fill="#0f9a5e"/>
<circle cx="494.9" cy="89.4" r="1.8" fill="#0f9a5e"/>
<circle cx="492.3" cy="91.3" r="1.8" fill="#0f9a5e"/>
<circle cx="490.1" cy="96.1" r="1.8" fill="#0f9a5e"/>
<circle cx="495.5" cy="97.5" r="1.8" fill="#0f9a5e"/>
<circle cx="491.5" cy="98.8" r="1.8" fill="#0f9a5e"/>
<circle cx="491.1" cy="101.9" r="1.8" fill="#0f9a5e"/>
<circle cx="493.1" cy="102.1" r="1.8" fill="#0f9a5e"/>
<circle cx="496.1" cy="103.3" r="1.8" fill="#0f9a5e"/>
<circle cx="494.9" cy="110" r="1.8" fill="#0f9a5e"/>
<circle cx="493.7" cy="111.8" r="1.8" fill="#0f9a5e"/>
<circle cx="496.4" cy="113" r="1.8" fill="#0f9a5e"/>
<circle cx="494.3" cy="116.4" r="1.8" fill="#0f9a5e"/>
<circle cx="492.3" cy="120" r="1.8" fill="#0f9a5e"/>
<circle cx="494.9" cy="120.3" r="1.8" fill="#0f9a5e"/>
<circle cx="490.1" cy="122.5" r="1.8" fill="#0f9a5e"/>
<circle cx="491.5" cy="123.7" r="1.8" fill="#0f9a5e"/>
<circle cx="493.5" cy="123.3" r="1.8" fill="#0f9a5e"/>
<circle cx="495.5" cy="123.7" r="1.8" fill="#0f9a5e"/>
<circle cx="527.1" cy="60.6" r="1.8" fill="#f0ae00"/>
<circle cx="528.2" cy="77" r="1.8" fill="#f0ae00"/>
<circle cx="526.3" cy="79.4" r="1.8" fill="#f0ae00"/>
<circle cx="528" cy="81" r="1.8" fill="#f0ae00"/>
<circle cx="525.5" cy="86.4" r="1.8" fill="#f0ae00"/>
<circle cx="529.8" cy="87.3" r="1.8" fill="#f0ae00"/>
<circle cx="523.7" cy="88.6" r="1.8" fill="#f0ae00"/>
<circle cx="529.7" cy="88.2" r="1.8" fill="#f0ae00"/>
<circle cx="525.3" cy="93.7" r="1.8" fill="#f0ae00"/>
<circle cx="525.1" cy="96.3" r="1.8" fill="#f0ae00"/>
<circle cx="528.1" cy="99.6" r="1.8" fill="#f0ae00"/>
<circle cx="528.6" cy="101.2" r="1.8" fill="#f0ae00"/>
<circle cx="523.3" cy="104.5" r="1.8" fill="#f0ae00"/>
<circle cx="525.9" cy="107.3" r="1.8" fill="#f0ae00"/>
<circle cx="528.1" cy="108.4" r="1.8" fill="#f0ae00"/>
<circle cx="523.1" cy="108.9" r="1.8" fill="#f0ae00"/>
<circle cx="527.3" cy="113.1" r="1.8" fill="#f0ae00"/>
<circle cx="526.4" cy="116.9" r="1.8" fill="#f0ae00"/>
<circle cx="524.2" cy="123.8" r="1.8" fill="#f0ae00"/>
<circle cx="526.4" cy="123.8" r="1.8" fill="#f0ae00"/>
<circle cx="528.4" cy="123.8" r="1.8" fill="#f0ae00"/>
<circle cx="51.2" cy="213.6" r="1.8" fill="#0c2d55"/>
<circle cx="48.5" cy="214.7" r="1.8" fill="#0c2d55"/>
<circle cx="46.1" cy="216.1" r="1.8" fill="#0c2d55"/>
<circle cx="49.9" cy="215.4" r="1.8" fill="#0c2d55"/>
<circle cx="44.8" cy="218.1" r="1.8" fill="#0c2d55"/>
<circle cx="47.4" cy="218.8" r="1.8" fill="#0c2d55"/>
<circle cx="44.5" cy="220.8" r="1.8" fill="#0c2d55"/>
<circle cx="46.8" cy="221.4" r="1.8" fill="#0c2d55"/>
<circle cx="45.4" cy="223.9" r="1.8" fill="#0c2d55"/>
<circle cx="47.4" cy="224.8" r="1.8" fill="#0c2d55"/>
<circle cx="45" cy="227.5" r="1.8" fill="#0c2d55"/>
<circle cx="47.4" cy="228.2" r="1.8" fill="#0c2d55"/>
<circle cx="49.5" cy="229.5" r="1.8" fill="#0c2d55"/>
<circle cx="46.1" cy="231.1" r="1.8" fill="#0c2d55"/>
<circle cx="48.8" cy="232.2" r="1.8" fill="#0c2d55"/>
<circle cx="50.8" cy="233.5" r="1.8" fill="#0c2d55"/>
<circle cx="45.8" cy="234.2" r="1.8" fill="#0c2d55"/>
<circle cx="48.1" cy="235.6" r="1.8" fill="#0c2d55"/>
<circle cx="50.8" cy="237.3" r="1.8" fill="#0c2d55"/>
<circle cx="46.8" cy="238.2" r="1.8" fill="#0c2d55"/>
<circle cx="49.1" cy="240.3" r="1.8" fill="#0c2d55"/>
<circle cx="51.5" cy="240.9" r="1.8" fill="#0c2d55"/>
<circle cx="46.1" cy="243.2" r="1.8" fill="#0c2d55"/>
<circle cx="49.5" cy="244" r="1.8" fill="#0c2d55"/>
<circle cx="47.4" cy="246.3" r="1.8" fill="#0c2d55"/>
<circle cx="50.8" cy="247" r="1.8" fill="#0c2d55"/>
<circle cx="45.4" cy="248.3" r="1.8" fill="#0c2d55"/>
<circle cx="48.5" cy="249.7" r="1.8" fill="#0c2d55"/>
<circle cx="46.8" cy="252.1" r="1.8" fill="#0c2d55"/>
<circle cx="50.1" cy="253" r="1.8" fill="#0c2d55"/>
<circle cx="47.4" cy="255" r="1.8" fill="#0c2d55"/>
<circle cx="50.8" cy="255.7" r="1.8" fill="#0c2d55"/>
<circle cx="51" cy="257.2" r="1.8" fill="#0c2d55"/>
<circle cx="49.5" cy="258.3" r="1.8" fill="#0c2d55"/>
<circle cx="47" cy="266.1" r="1.8" fill="#0c2d55"/>
<circle cx="51.5" cy="268" r="1.8" fill="#0c2d55"/>
<circle cx="45.1" cy="272.5" r="1.8" fill="#0c2d55"/>
<circle cx="50" cy="277.2" r="1.8" fill="#0c2d55"/>
<circle cx="46.1" cy="278.4" r="1.8" fill="#0c2d55"/>
<circle cx="48.8" cy="279.9" r="1.8" fill="#0c2d55"/>
<circle cx="45.5" cy="282.8" r="1.8" fill="#0c2d55"/>
<circle cx="47.6" cy="287.2" r="1.8" fill="#0c2d55"/>
<circle cx="47" cy="290.2" r="1.8" fill="#0c2d55"/>
<circle cx="46.6" cy="299.4" r="1.8" fill="#0c2d55"/>
<circle cx="45.1" cy="305" r="1.8" fill="#0c2d55"/>
<circle cx="47.6" cy="305.3" r="1.8" fill="#0c2d55"/>
<circle cx="50" cy="305" r="1.8" fill="#0c2d55"/>
<circle cx="51.8" cy="303.1" r="1.8" fill="#0c2d55"/>
<circle cx="82.1" cy="218" r="1.8" fill="#0f9a5e"/>
<circle cx="81.5" cy="232.8" r="1.8" fill="#0f9a5e"/>
<circle cx="78.8" cy="235.1" r="1.8" fill="#0f9a5e"/>
<circle cx="82.1" cy="235.1" r="1.8" fill="#0f9a5e"/>
<circle cx="78.4" cy="238.6" r="1.8" fill="#0f9a5e"/>
<circle cx="83.1" cy="239.6" r="1.8" fill="#0f9a5e"/>
<circle cx="79.8" cy="247.2" r="1.8" fill="#0f9a5e"/>
<circle cx="78.8" cy="254.3" r="1.8" fill="#0f9a5e"/>
<circle cx="79.8" cy="255.7" r="1.8" fill="#0f9a5e"/>
<circle cx="81.1" cy="257" r="1.8" fill="#0f9a5e"/>
<circle cx="77.8" cy="258.4" r="1.8" fill="#0f9a5e"/>
<circle cx="80.8" cy="256.7" r="1.8" fill="#0f9a5e"/>
<circle cx="81.2" cy="263.3" r="1.8" fill="#0f9a5e"/>
<circle cx="80.8" cy="266.2" r="1.8" fill="#0f9a5e"/>
<circle cx="83" cy="265.9" r="1.8" fill="#0f9a5e"/>
<circle cx="80.8" cy="269.4" r="1.8" fill="#0f9a5e"/>
<circle cx="83.7" cy="270.8" r="1.8" fill="#0f9a5e"/>
<circle cx="84.7" cy="272" r="1.8" fill="#0f9a5e"/>
<circle cx="79.8" cy="272.3" r="1.8" fill="#0f9a5e"/>
<circle cx="83" cy="274.9" r="1.8" fill="#0f9a5e"/>
<circle cx="80.1" cy="275.6" r="1.8" fill="#0f9a5e"/>
<circle cx="82.7" cy="278.9" r="1.8" fill="#0f9a5e"/>
<circle cx="78.3" cy="281" r="1.8" fill="#0f9a5e"/>
<circle cx="81.5" cy="281.4" r="1.8" fill="#0f9a5e"/>
<circle cx="83.7" cy="283.9" r="1.8" fill="#0f9a5e"/>
<circle cx="81.5" cy="286.2" r="1.8" fill="#0f9a5e"/>
<circle cx="84.1" cy="286.8" r="1.8" fill="#0f9a5e"/>
<circle cx="82.7" cy="291.6" r="1.8" fill="#0f9a5e"/>
<circle cx="81.2" cy="294.9" r="1.8" fill="#0f9a5e"/>
<circle cx="83.3" cy="297.4" r="1.8" fill="#0f9a5e"/>
<circle cx="77.9" cy="299.5" r="1.8" fill="#0f9a5e"/>
<circle cx="80.1" cy="301.7" r="1.8" fill="#0f9a5e"/>
<circle cx="82.7" cy="303.2" r="1.8" fill="#0f9a5e"/>
<circle cx="78.9" cy="305.1" r="1.8" fill="#0f9a5e"/>
<circle cx="81.5" cy="305.3" r="1.8" fill="#0f9a5e"/>
<circle cx="84.1" cy="305.1" r="1.8" fill="#0f9a5e"/>
<circle cx="116.2" cy="241.7" r="1.8" fill="#f0ae00"/>
<circle cx="112.4" cy="249" r="1.8" fill="#f0ae00"/>
<circle cx="114.6" cy="256.3" r="1.8" fill="#f0ae00"/>
<circle cx="111.9" cy="260" r="1.8" fill="#f0ae00"/>
<circle cx="114.9" cy="262.1" r="1.8" fill="#f0ae00"/>
<circle cx="112.4" cy="263.2" r="1.8" fill="#f0ae00"/>
<circle cx="113.8" cy="265.6" r="1.8" fill="#f0ae00"/>
<circle cx="116.2" cy="267" r="1.8" fill="#f0ae00"/>
<circle cx="111.7" cy="271.6" r="1.8" fill="#f0ae00"/>
<circle cx="111.2" cy="274.2" r="1.8" fill="#f0ae00"/>
<circle cx="115.9" cy="279.9" r="1.8" fill="#f0ae00"/>
<circle cx="112" cy="288.9" r="1.8" fill="#f0ae00"/>
<circle cx="116.5" cy="289.2" r="1.8" fill="#f0ae00"/>
<circle cx="114.2" cy="291.1" r="1.8" fill="#f0ae00"/>
<circle cx="115.9" cy="292.6" r="1.8" fill="#f0ae00"/>
<circle cx="112.8" cy="298.5" r="1.8" fill="#f0ae00"/>
<circle cx="113.4" cy="300.7" r="1.8" fill="#f0ae00"/>
<circle cx="110.9" cy="305" r="1.8" fill="#f0ae00"/>
<circle cx="113.1" cy="305.2" r="1.8" fill="#f0ae00"/>
<circle cx="115.7" cy="305.2" r="1.8" fill="#f0ae00"/>
<circle cx="117.6" cy="305" r="1.8" fill="#f0ae00"/>
<circle cx="185.5" cy="214" r="1.8" fill="#0c2d55"/>
<circle cx="183.1" cy="216.3" r="1.8" fill="#0c2d55"/>
<circle cx="187.8" cy="217.7" r="1.8" fill="#0c2d55"/>
<circle cx="184.4" cy="219" r="1.8" fill="#0c2d55"/>
<circle cx="182.4" cy="221.4" r="1.8" fill="#0c2d55"/>
<circle cx="188.2" cy="221.2" r="1.8" fill="#0c2d55"/>
<circle cx="185.1" cy="222.8" r="1.8" fill="#0c2d55"/>
<circle cx="183.1" cy="224.8" r="1.8" fill="#0c2d55"/>
<circle cx="188.5" cy="225.2" r="1.8" fill="#0c2d55"/>
<circle cx="185.8" cy="226.8" r="1.8" fill="#0c2d55"/>
<circle cx="187.8" cy="228.8" r="1.8" fill="#0c2d55"/>
<circle cx="184.4" cy="230.2" r="1.8" fill="#0c2d55"/>
<circle cx="188.7" cy="230.8" r="1.8" fill="#0c2d55"/>
<circle cx="183.8" cy="232.9" r="1.8" fill="#0c2d55"/>
<circle cx="187.1" cy="233.3" r="1.8" fill="#0c2d55"/>
<circle cx="185.1" cy="234.9" r="1.8" fill="#0c2d55"/>
<circle cx="188.2" cy="236.2" r="1.8" fill="#0c2d55"/>
<circle cx="183.4" cy="236.9" r="1.8" fill="#0c2d55"/>
<circle cx="185.8" cy="238.2" r="1.8" fill="#0c2d55"/>
<circle cx="184.4" cy="240.3" r="1.8" fill="#0c2d55"/>
<circle cx="187.8" cy="240.9" r="1.8" fill="#0c2d55"/>
<circle cx="183.1" cy="242.7" r="1.8" fill="#0c2d55"/>
<circle cx="185.5" cy="243.6" r="1.8" fill="#0c2d55"/>
<circle cx="187.4" cy="245.6" r="1.8" fill="#0c2d55"/>
<circle cx="183.8" cy="247" r="1.8" fill="#0c2d55"/>
<circle cx="186.1" cy="248.3" r="1.8" fill="#0c2d55"/>
<circle cx="182.4" cy="250.7" r="1.8" fill="#0c2d55"/>
<circle cx="187.8" cy="250.7" r="1.8" fill="#0c2d55"/>
<circle cx="184.4" cy="252.1" r="1.8" fill="#0c2d55"/>
<circle cx="186.9" cy="253.7" r="1.8" fill="#0c2d55"/>
<circle cx="188.5" cy="255" r="1.8" fill="#0c2d55"/>
<circle cx="185.8" cy="256.5" r="1.8" fill="#0c2d55"/>
<circle cx="185.1" cy="258" r="1.8" fill="#0c2d55"/>
<circle cx="184.6" cy="261.7" r="1.8" fill="#0c2d55"/>
<circle cx="184.3" cy="263.9" r="1.8" fill="#0c2d55"/>
<circle cx="185.5" cy="269.1" r="1.8" fill="#0c2d55"/>
<circle cx="185.1" cy="271" r="1.8" fill="#0c2d55"/>
<circle cx="188.8" cy="273.5" r="1.8" fill="#0c2d55"/>
<circle cx="185.8" cy="274.2" r="1.8" fill="#0c2d55"/>
<circle cx="187.6" cy="277.2" r="1.8" fill="#0c2d55"/>
<circle cx="188.8" cy="278.7" r="1.8" fill="#0c2d55"/>
<circle cx="183.1" cy="283.1" r="1.8" fill="#0c2d55"/>
<circle cx="183.6" cy="285.3" r="1.8" fill="#0c2d55"/>
<circle cx="182.5" cy="287.5" r="1.8" fill="#0c2d55"/>
<circle cx="184.6" cy="302" r="1.8" fill="#0c2d55"/>
<circle cx="182.5" cy="305.3" r="1.8" fill="#0c2d55"/>
<circle cx="185.1" cy="305.3" r="1.8" fill="#0c2d55"/>
<circle cx="187.6" cy="305" r="1.8" fill="#0c2d55"/>
<circle cx="216.2" cy="216.3" r="1.8" fill="#0f9a5e"/>
<circle cx="219.8" cy="220.8" r="1.8" fill="#0f9a5e"/>
<circle cx="221.1" cy="225.2" r="1.8" fill="#0f9a5e"/>
<circle cx="216.2" cy="235.6" r="1.8" fill="#0f9a5e"/>
<circle cx="220.2" cy="235.6" r="1.8" fill="#0f9a5e"/>
<circle cx="219.1" cy="238.2" r="1.8" fill="#0f9a5e"/>
<circle cx="220.5" cy="246.3" r="1.8" fill="#0f9a5e"/>
<circle cx="217.5" cy="247" r="1.8" fill="#0f9a5e"/>
<circle cx="221.5" cy="247.2" r="1.8" fill="#0f9a5e"/>
<circle cx="216.4" cy="248.3" r="1.8" fill="#0f9a5e"/>
<circle cx="217.1" cy="251.3" r="1.8" fill="#0f9a5e"/>
<circle cx="220.7" cy="252.4" r="1.8" fill="#0f9a5e"/>
<circle cx="217.5" cy="255" r="1.8" fill="#0f9a5e"/>
<circle cx="220.2" cy="255.7" r="1.8" fill="#0f9a5e"/>
<circle cx="216.4" cy="257.5" r="1.8" fill="#0f9a5e"/>
<circle cx="220.5" cy="256.2" r="1.8" fill="#0f9a5e"/>
<circle cx="219.6" cy="259.7" r="1.8" fill="#0f9a5e"/>
<circle cx="217.8" cy="262.1" r="1.8" fill="#0f9a5e"/>
<circle cx="219.3" cy="263.6" r="1.8" fill="#0f9a5e"/>
<circle cx="215.1" cy="265.7" r="1.8" fill="#0f9a5e"/>
<circle cx="217.1" cy="266.8" r="1.8" fill="#0f9a5e"/>
<circle cx="221.9" cy="271.3" r="1.8" fill="#0f9a5e"/>
<circle cx="215.1" cy="272.5" r="1.8" fill="#0f9a5e"/>
<circle cx="218.5" cy="273" r="1.8" fill="#0f9a5e"/>
<circle cx="216.3" cy="274.2" r="1.8" fill="#0f9a5e"/>
<circle cx="216" cy="282.4" r="1.8" fill="#0f9a5e"/>
<circle cx="221.5" cy="281.9" r="1.8" fill="#0f9a5e"/>
<circle cx="215.1" cy="286.1" r="1.8" fill="#0f9a5e"/>
<circle cx="217.5" cy="290.5" r="1.8" fill="#0f9a5e"/>
<circle cx="217.1" cy="294.6" r="1.8" fill="#0f9a5e"/>
<circle cx="220" cy="299.4" r="1.8" fill="#0f9a5e"/>
<circle cx="217.8" cy="301.2" r="1.8" fill="#0f9a5e"/>
<circle cx="216.6" cy="305.3" r="1.8" fill="#0f9a5e"/>
<circle cx="221" cy="305.3" r="1.8" fill="#0f9a5e"/>
<circle cx="249.6" cy="253.4" r="1.8" fill="#f0ae00"/>
<circle cx="253.5" cy="252.3" r="1.8" fill="#f0ae00"/>
<circle cx="249.1" cy="268.1" r="1.8" fill="#f0ae00"/>
<circle cx="254.4" cy="267.4" r="1.8" fill="#f0ae00"/>
<circle cx="251.7" cy="270.3" r="1.8" fill="#f0ae00"/>
<circle cx="249.1" cy="272.1" r="1.8" fill="#f0ae00"/>
<circle cx="250.3" cy="273.8" r="1.8" fill="#f0ae00"/>
<circle cx="250" cy="276.8" r="1.8" fill="#f0ae00"/>
<circle cx="248.6" cy="288.4" r="1.8" fill="#f0ae00"/>
<circle cx="252.6" cy="289.6" r="1.8" fill="#f0ae00"/>
<circle cx="249.1" cy="291.3" r="1.8" fill="#f0ae00"/>
<circle cx="254.4" cy="291.9" r="1.8" fill="#f0ae00"/>
<circle cx="253.1" cy="294" r="1.8" fill="#f0ae00"/>
<circle cx="248.6" cy="298.3" r="1.8" fill="#f0ae00"/>
<circle cx="253.5" cy="297.8" r="1.8" fill="#f0ae00"/>
<circle cx="250.9" cy="300.6" r="1.8" fill="#f0ae00"/>
<circle cx="247.9" cy="305.3" r="1.8" fill="#f0ae00"/>
<circle cx="250.9" cy="305.8" r="1.8" fill="#f0ae00"/>
<circle cx="253.5" cy="305.3" r="1.8" fill="#f0ae00"/>
<circle cx="325.8" cy="235.7" r="1.8" fill="#0c2d55"/>
<circle cx="322.8" cy="299.7" r="1.8" fill="#0c2d55"/>
<circle cx="356.7" cy="227.5" r="1.8" fill="#0f9a5e"/>
<circle cx="354.3" cy="231.9" r="1.8" fill="#0f9a5e"/>
<circle cx="358.2" cy="231.5" r="1.8" fill="#0f9a5e"/>
<circle cx="355.5" cy="238.4" r="1.8" fill="#0f9a5e"/>
<circle cx="358.5" cy="239.3" r="1.8" fill="#0f9a5e"/>
<circle cx="359.1" cy="240.8" r="1.8" fill="#0f9a5e"/>
<circle cx="356.7" cy="244.8" r="1.8" fill="#0f9a5e"/>
<circle cx="353.7" cy="256.3" r="1.8" fill="#0f9a5e"/>
<circle cx="358.9" cy="255.3" r="1.8" fill="#0f9a5e"/>
<circle cx="356.1" cy="257.7" r="1.8" fill="#0f9a5e"/>
<circle cx="358.9" cy="259.3" r="1.8" fill="#0f9a5e"/>
<circle cx="356.1" cy="261.7" r="1.8" fill="#0f9a5e"/>
<circle cx="355.3" cy="263.5" r="1.8" fill="#0f9a5e"/>
<circle cx="355.8" cy="260.7" r="1.8" fill="#0f9a5e"/>
<circle cx="356.9" cy="263" r="1.8" fill="#0f9a5e"/>
<circle cx="353.8" cy="266.5" r="1.8" fill="#0f9a5e"/>
<circle cx="358.2" cy="267" r="1.8" fill="#0f9a5e"/>
<circle cx="353.4" cy="270.5" r="1.8" fill="#0f9a5e"/>
<circle cx="358.2" cy="270.1" r="1.8" fill="#0f9a5e"/>
<circle cx="356.1" cy="277.5" r="1.8" fill="#0f9a5e"/>
<circle cx="359.1" cy="279.5" r="1.8" fill="#0f9a5e"/>
<circle cx="354.4" cy="288.2" r="1.8" fill="#0f9a5e"/>
<circle cx="356.9" cy="292.3" r="1.8" fill="#0f9a5e"/>
<circle cx="354.4" cy="294.7" r="1.8" fill="#0f9a5e"/>
<circle cx="356.1" cy="296.3" r="1.8" fill="#0f9a5e"/>
<circle cx="353.8" cy="302.7" r="1.8" fill="#0f9a5e"/>
<circle cx="356.9" cy="302.3" r="1.8" fill="#0f9a5e"/>
<circle cx="359.1" cy="302.3" r="1.8" fill="#0f9a5e"/>
<circle cx="352.8" cy="305" r="1.8" fill="#0f9a5e"/>
<circle cx="355.5" cy="305.4" r="1.8" fill="#0f9a5e"/>
<circle cx="358.2" cy="305.4" r="1.8" fill="#0f9a5e"/>
<circle cx="386.8" cy="241.9" r="1.8" fill="#f0ae00"/>
<circle cx="391.9" cy="247.9" r="1.8" fill="#f0ae00"/>
<circle cx="387.6" cy="261.1" r="1.8" fill="#f0ae00"/>
<circle cx="391.3" cy="273.9" r="1.8" fill="#f0ae00"/>
<circle cx="391.9" cy="282.9" r="1.8" fill="#f0ae00"/>
<circle cx="387.2" cy="284.8" r="1.8" fill="#f0ae00"/>
<circle cx="387.6" cy="299.9" r="1.8" fill="#f0ae00"/>
<circle cx="386.8" cy="302.1" r="1.8" fill="#f0ae00"/>
<circle cx="386.8" cy="305.5" r="1.8" fill="#f0ae00"/>
<circle cx="391.3" cy="305.5" r="1.8" fill="#f0ae00"/>
</g>
<text x="269.3" y="365.6" style="font-family:'Liberation Serif',serif;font-size:14.4px;fill:#000">(<tspan font-weight="bold">a</tspan>)</text>
</svg>
</body></html>
